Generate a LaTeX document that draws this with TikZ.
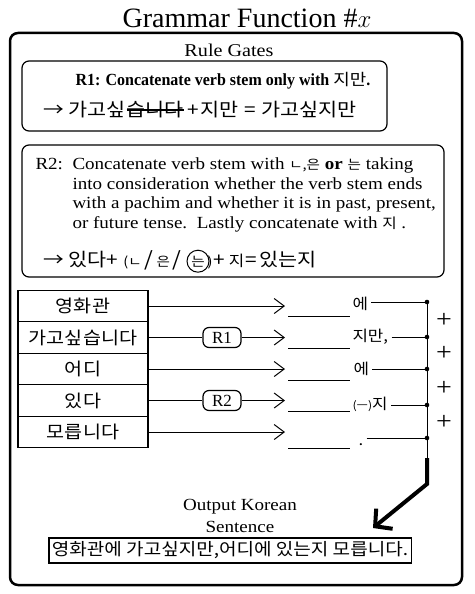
\documentclass[tikz,border=0pt]{standalone}
\usepackage{fontspec}
\setmainfont{Liberation Serif}
\newfontfamily\wide{Liberation Serif}[FakeStretch=1.12]
\newfontfamily\narrow{Liberation Serif}[FakeStretch=0.94]
\newfontfamily\kor{Noto Sans CJK KR}[FakeStretch=1.12]
\usetikzlibrary{positioning,arrows.meta}
\begin{document}
\begin{tikzpicture}[x=1pt,y=1pt,line width=1pt,
                txt/.style={inner sep=0pt,font=\wide\fontsize{17}{18}\selectfont},
                ktxt/.style={inner sep=0pt,font=\kor\fontsize{18.5}{18.5}\selectfont},
                small/.style={font=\kor\fontsize{13}{13}\selectfont},
                rulebox/.style={draw,line width=1.2pt,rounded corners=7pt},
                wordbox/.style={draw,line width=1.2pt,minimum width=130pt,minimum height=31.5pt,inner sep=0pt,font=\kor\fontsize{17.5}{17.5}\selectfont},
                gate/.style={draw,line width=1.2pt,rounded corners=6pt,minimum width=38pt,minimum height=20pt,inner sep=0pt,fill=white,font=\fontsize{17}{17}\selectfont},
                suffix/.style={anchor=west,inner sep=3pt,font=\kor\fontsize{15}{15}\selectfont},
                plus/.style={font=\wide\fontsize{25}{25}\selectfont},
                wire/.style={-{Straight Barb[length=10pt,width=15pt]}},
                node distance=31.5pt]
                \useasboundingbox (0,0) rectangle (474,-594);
                \path (247,-18) node[font=\fontsize{28}{28}\selectfont] (title) {Grammar Function \#$x$};
                \draw[line width=2.5pt,rounded corners=8pt] (10,-33) rectangle (462,-585);
                \path (229,-50) node[font=\wide\fontsize{18}{18}\selectfont] (gates) {Rule Gates};

                \path (204.5,-96) node[rulebox,minimum width=365pt,minimum height=70pt] (r1box) {};
                \path (75,-85) node[inner sep=0pt,anchor=base west,font=\narrow\bfseries\fontsize{17}{17}\selectfont] (r1a) {R1: Concatenate verb stem only with {\mdseries\kor\fontsize{16}{16}\selectfont 지만}.};
                \path (43,-116) node[ktxt,anchor=base west] (r1b) {→ 가고싶습니다};
                \path ([xshift=3pt]r1b.base east) node[ktxt,anchor=base west] (r1c) {+\hspace{2pt}지만};
                \path ([xshift=5pt]r1c.base east) node[ktxt,anchor=base west] (r1d) {=\hspace{5pt}가고싶지만};
                \draw[line width=1.6pt] ([shift={(-57pt,-1pt)}]r1b.east) -- ([yshift=-1pt]r1b.east);

                \path (233,-211) node[rulebox,minimum width=422pt,minimum height=132pt] (r2box) {};
                \path (35,-169) node[txt,anchor=base west] (r2a) {R2:};
                \path (72,-169) node[txt,anchor=base west] (r2b) {Concatenate verb stem with {\kor\fontsize{13}{13}\selectfont ㄴ,은} \textbf{or} {\kor\fontsize{13}{13}\selectfont 는} taking};
                \path (72,-189) node[txt,anchor=base west] (r2c) {into consideration whether the verb stem ends};
                \path (72,-208.5) node[txt,anchor=base west] (r2d) {with a pachim and whether it is in past, present,};
                \path (72,-228) node[txt,anchor=base west] (r2e) {or future tense.\ \ Lastly concatenate with {\kor\fontsize{14}{14}\selectfont 지} .};
                \path (43,-266) node[ktxt,anchor=base west] (r2f) {→ 있다+\hspace{5pt}{\fontsize{13}{13}\selectfont(ㄴ}\hspace{3pt}{\fontsize{20}{20}\selectfont/}\hspace{3pt}{\fontsize{13}{13}\selectfont 은}\hspace{3pt}{\fontsize{20}{20}\selectfont/}};
                \path (198,-266) node[ktxt,small,anchor=base] (neun) {는};
                \draw (neun.center) circle (11pt);
                \path (207,-266) node[ktxt,anchor=base west] (r2g) {{\fontsize{13}{13}\selectfont)}\hspace{1pt}+\hspace{4pt}{\fontsize{15}{15}\selectfont 지}\hspace{1pt}=\hspace{3pt}있는지};

                \path (83,-306) node[wordbox] (w1) {영화관};
                \path node[wordbox,below of=w1] (w2) {가고싶습니다};
                \path node[wordbox,below of=w2] (w3) {어디};
                \path node[wordbox,below of=w3] (w4) {있다};
                \path node[wordbox,below of=w4] (w5) {모릅니다};

                \foreach \i in {1,...,5}
                  \coordinate (t\i) at (285,0 |- w\i);
                \path (222,0 |- w2) node[gate] (g1) {R1};
                \path (222,0 |- w4) node[gate] (g2) {R2};
                \foreach \i in {1,3,5}
                  \draw[wire] (w\i) -- (t\i);
                \draw (w2) -- (g1);
                \draw[wire] (g1) -- (t2);
                \draw (w4) -- (g2);
                \draw[wire] (g2) -- (t4);

                \foreach \y in {316,348,380,411,448}
                  \draw (288,-\y) -- (350,-\y);

                \path (349,-304) node[suffix] (s1) {에};
                \path (349,-337) node[suffix] (s2) {지만,};
                \path (350,-369) node[suffix] (s3) {에};
                \path (349,-404) node[suffix] (s4) {{\fontsize{11}{11}\selectfont(ㅡ)}지};
                \path (355,-445) node[suffix] (s5) {.};

                \foreach \i/\y in {1/302,2/337,3/369,4/405,5/438}
                  \coordinate (d\i) at (427,-\y);
                \coordinate (bus) at (427,-458);
                \coordinate (bend) at (427,-484);
                \coordinate (tip) at (373,-528);
                \foreach \i in {1,...,5}
                  \draw (s\i.east |- d\i) -- (d\i);
                \draw (d1) -- (bus);
                \draw[line width=4pt,-{Straight Barb[length=12pt,width=26pt]}] (bus) -- (bend) -- (tip);
                \foreach \i in {1,...,5}
                  \fill (d\i) circle (2.3pt);
                \foreach \i/\y in {1/320,2/353,3/388,4/422}
                  \path (444,-\y) node[plus] (p\i) {+};

                \path (240,-516) node[align=center,font=\wide\fontsize{17}{22}\selectfont] (outlbl) {Output Korean\\Sentence};
                \path (230,-550.5) node[draw,line width=1.2pt,minimum height=25pt,inner sep=3pt,font=\kor\fontsize{17}{17}\selectfont] (sent) {영화관에 가고싶지만,어디에 있는지 모릅니다.};
              \end{tikzpicture}
\end{document}
